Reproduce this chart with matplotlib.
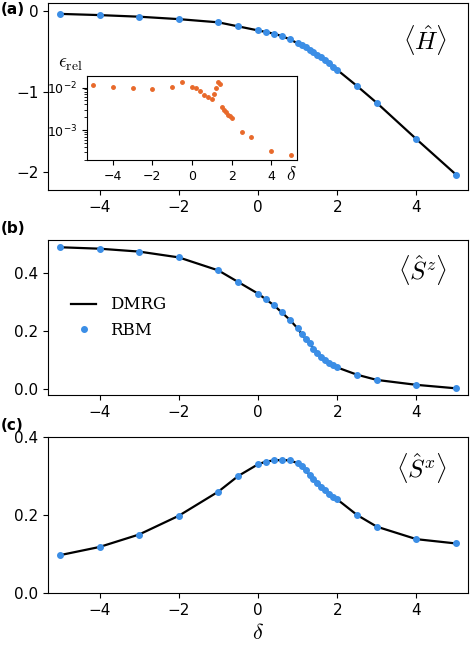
import matplotlib
matplotlib.use("Agg")
import matplotlib.pyplot as plt
plt.rcParams['mathtext.fontset'] = 'cm'

delta = [-5,-4,-3,-2,-1,-0.5,0,0.2,0.4,0.6,0.8,1.0,1.1,1.2,1.3,1.4,1.5,1.6,1.7,1.8,1.9,2.0,2.5,3,4,5]
H = [-0.035,-0.05,-0.07,-0.1,-0.14,-0.19,-0.24,-0.26,-0.28,-0.31,-0.35,-0.40,-0.42,-0.45,-0.48,-0.51,-0.54,-0.57,-0.61,-0.65,-0.69,-0.73,-0.93,-1.14,-1.59,-2.03]
Sz = [0.49,0.485,0.475,0.455,0.41,0.37,0.33,0.31,0.29,0.265,0.24,0.21,0.19,0.175,0.16,0.14,0.125,0.11,0.1,0.09,0.082,0.075,0.05,0.032,0.015,0.003]
Sx = [0.097,0.118,0.15,0.198,0.26,0.3,0.33,0.337,0.34,0.341,0.34,0.333,0.325,0.315,0.303,0.293,0.283,0.273,0.263,0.255,0.245,0.24,0.2,0.17,0.138,0.127]
eps = [0.0115,0.0102,0.0097,0.0092,0.0102,0.0135,0.0105,0.0100,0.0081,0.0068,0.0059,0.0054,0.0070,0.0096,0.0138,0.0120,0.0035,0.0030,0.0026,0.0023,0.0021,0.0019,0.0009,0.00068,0.00033,0.00026]

W, Hh = 474, 669
fig = plt.figure(figsize=(W/100, Hh/100), dpi=100)
def ax_at(l, t, r, b):
    return fig.add_axes([l/W, 1-b/Hh, (r-l)/W, (b-t)/Hh])

blue = '#3b8ee6'
orange = '#e8692a'
axa = ax_at(48, 3, 468, 190)
axb = ax_at(48, 240, 468, 395)
axc = ax_at(48, 437, 468, 593)
for ax, y, lab in [(axa, H, r'$\langle\hat{H}\rangle$'), (axb, Sz, r'$\langle\hat{S}^z\rangle$'), (axc, Sx, r'$\langle\hat{S}^x\rangle$')]:
    ax.plot(delta, y, color='black', lw=1.6, label='DMRG', zorder=1)
    ax.plot(delta, y, 'o', color=blue, ms=4, label='RBM', zorder=2)
    ax.set_xlim(-5.3, 5.3)
    ax.set_xticks([-4, -2, 0, 2, 4])
    ax.tick_params(labelsize=11)
    ax.text(0.95, 0.80, lab, transform=ax.transAxes, ha='right', va='center', fontsize=18)
axa.set_ylim(-2.22, 0.1)
axa.set_yticks([0, -1, -2])
axb.set_ylim(-0.02, 0.515)
axb.set_yticks([0.0, 0.2, 0.4])
axc.set_ylim(0.0, 0.4)
axc.set_yticks([0.0, 0.2, 0.4])
axc.set_xlabel(r'$\delta$', fontsize=16)
axb.legend(loc='center left', bbox_to_anchor=(0.02, 0.5), frameon=False,
           prop={'family': 'DejaVu Serif', 'size': 12}, handlelength=1.5)
fig.text(1/W, 1-10/Hh, '(a)', fontsize=11, fontweight='bold', va='center')
fig.text(1/W, 1-229/Hh, '(b)', fontsize=11, fontweight='bold', va='center')
fig.text(1/W, 1-425/Hh, '(c)', fontsize=11, fontweight='bold', va='center')

axi = ax_at(87, 76, 297, 160)
axi.plot(delta, eps, 'o', color=orange, ms=2.5)
axi.set_yscale('log')
axi.set_xlim(-5.3, 5.3)
axi.set_ylim(10**-3.7, 10**-1.73)
axi.set_xticks([-4, -2, 0, 2, 4])
axi.tick_params(labelsize=9)
axi.text(1.0, -0.06, r'$\delta$', transform=axi.transAxes, ha='right', va='top', fontsize=14)
axi.text(-0.14, 1.03, r'$\epsilon_{\rm rel}$', transform=axi.transAxes, ha='left', va='bottom', fontsize=14)
fig.savefig('out.png', dpi=100)
